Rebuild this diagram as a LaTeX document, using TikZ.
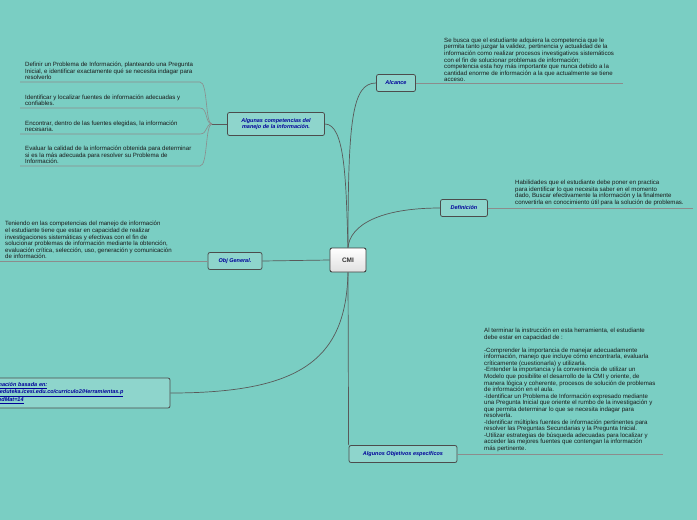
\documentclass[tikz,border=0pt]{standalone}
\usepackage{fontspec}
\setmainfont{Liberation Sans}
\begin{document}
\begin{tikzpicture}[x=1pt,y=-1pt,
 topic/.style={draw=black!70,line width=0.8pt,rounded corners=2pt,fill=bg!85!white,font=\fontsize{5.5}{6.5}\selectfont\bfseries\itshape,text=blue!60!black,align=center},
 desc/.style={font=\fontsize{6.1}{6.55}\selectfont,text=black!90,align=left,anchor=south west,inner sep=0pt},
 con/.style={draw=black!65,line width=0.7pt},
 sub/.style={draw=black!45,line width=0.6pt}]
\definecolor{bg}{HTML}{7ACEC3}
\fill[bg] (0,0) rectangle (697,520);
\useasboundingbox (0,0) rectangle (697,520);
\node[draw=black!75,line width=0.9pt,rounded corners=2pt,top color=white,bottom color=black!12,minimum width=36,minimum height=24,font=\fontsize{6.5}{7}\selectfont\bfseries,text=black!80] (cmi) at (348,260) {CMI};
\node[topic,minimum width=39,minimum height=17] (alc) at (396,83) {Alcance};
\node[topic,minimum width=47,minimum height=17] (def) at (464,208) {Definición};
\node[topic,minimum width=54,minimum height=17] (obj) at (235,261) {Obj General.};
\node[topic,minimum width=97,minimum height=23,inner sep=1pt] (comp) at (276,124) {Algunas competencias del\\manejo de la información.};
\node[topic,minimum width=180,minimum height=30,align=left,text width=170] (src) at (80,393) {\underline{rmación basada en:}\\\underline{://eduteka.icesi.edu.co/curriculo2/Herramientas.p}\\\underline{codMat=14}};
\node[topic,minimum width=108,minimum height=17] (esp) at (403,454) {Algunos Objetivos específicos};
% connectors
\draw[con] (cmi.north) .. controls (348,120) and (352,83) .. (alc.west);
\draw[con] (cmi.north) .. controls (350,225) and (380,208) .. (def.west);
\draw[con] (cmi.west) -- (obj.east);
\draw[con] (cmi.north) .. controls (346,180) and (345,124) .. (comp.east);
\draw[con] (cmi.south) .. controls (346,360) and (300,393) .. (src.east);
\draw[con] (cmi.south) -- (esp.north west);
% underlines
\coordinate (a2) at (623,83); \draw[sub] (alc.east) -- (a2);
\coordinate (d2) at (693,208); \draw[sub] (def.east) -- (d2);
\coordinate (o2) at (0,261); \draw[sub] (obj.west) -- (o2);
\coordinate (e2) at (663,454); \draw[sub] (esp.east) -- (e2);
% texts
\node[desc] (ta) at (444,82) {Se busca que el estudiante adquiera la competencia que le\\permita tanto juzgar la validez, pertinencia y actualidad de la\\información como realizar procesos investigativos sistemáticos\\con el fin de solucionar problemas de información;\\competencia esta hoy más importante que nunca debido a la\\cantidad enorme de información a la que actualmente se tiene\\acceso.};
\node[desc] (td) at (515,206) {Habilidades que el estudiante debe poner en practica\\para identificar lo que necesita saber en el momento\\dado, Buscar efectivamente la información y la finalmente\\convertirla en conocimiento útil para la solución de problemas.};
\node[desc] (to) at (5,259) {Teniendo en las competencias del manejo de información\\el estudiante tiene que estar en capacidad de realizar\\investigaciones sistemáticas y efectivas con el fin de\\solucionar problemas de información mediante la obtención,\\evaluación crítica, selección, uso, generación y comunicación\\de información.};
\node[desc] (te) at (484,452) {Al terminar la instrucción en esta herramienta, el estudiante\\debe estar en capacidad de :\\[6.5pt]-Comprender la importancia de manejar adecuadamente\\información, manejo que incluye cómo encontrarla, evaluarla\\críticamente (cuestionarla) y utilizarla.\\-Entender la importancia y la conveniencia de utilizar un\\Modelo que posibilite el desarrollo de la CMI y oriente, de\\manera lógica y coherente, procesos de solución de problemas\\de información en el aula.\\-Identificar un Problema de Información expresado mediante\\una Pregunta Inicial que oriente el rumbo de la investigación y\\que permita determinar lo que se necesita indagar para\\resolverla.\\-Identificar múltiples fuentes de información pertinentes para\\resolver las Preguntas Secundarias y la Pregunta Inicial.\\-Utilizar estrategias de búsqueda adecuadas para localizar y\\acceder las mejores fuentes que contengan la información\\más pertinente.};
% competencias sub-items
\coordinate (j) at (212,124);
\draw[con] (comp.west) -- (j);
\foreach \y/\n in {82/c1,108/c2,134/c3,166/c4}{
  \coordinate (\n) at (20,\y);
  \draw[sub] (j) .. controls (205,124) and (208,\y) .. (200,\y) -- (\n);
}
\node[desc] at (25,80) {Definir un Problema de Información, planteando una Pregunta\\Inicial, e identificar exactamente qué se necesita indagar para\\resolverlo};
\node[desc] at (25,106) {Identificar y localizar fuentes de información adecuadas y\\confiables.};
\node[desc] at (25,132) {Encontrar, dentro de las fuentes elegidas, la información\\necesaria.};
\node[desc] at (25,164) {Evaluar la calidad de la información obtenida para determinar\\si es la más adecuada para resolver su Problema de\\Información.};
\end{tikzpicture}
\end{document}
